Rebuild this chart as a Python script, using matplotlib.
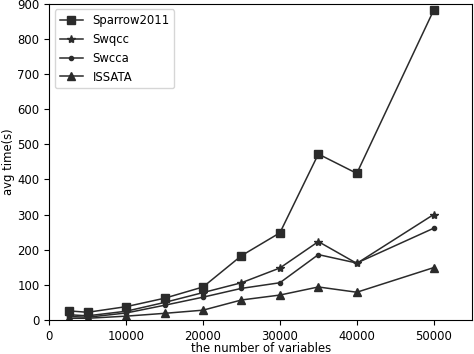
import matplotlib
matplotlib.use("Agg")
import matplotlib.pyplot as plt

plt.rcParams['font.size'] = 8.4

# number of variables
n_vars = [2500, 5000, 10000, 15000, 20000, 25000, 30000, 35000, 40000, 50000]

sparrow = [26, 22, 38, 62, 94, 183, 248, 472, 417, 881]
swqcc = [15, 12, 25, 50, 78, 106, 148, 223, 161, 300]
swcca = [10, 8, 20, 42, 65, 90, 106, 186, 162, 261]
issata = [5, 5, 11, 19, 28, 57, 71, 94, 79, 149]

fig = plt.figure(figsize=(4.74, 3.54), dpi=100)
ax = fig.add_axes([0.104, 0.096, 0.892, 0.894])

c = '#2b2b2b'
ax.plot(n_vars, sparrow, marker='s', color=c, lw=1.1, ms=6, label='Sparrow2011')
ax.plot(n_vars, swqcc, marker='*', color=c, lw=1.1, ms=6, label='Swqcc')
ax.plot(n_vars, swcca, marker='.', color=c, lw=1.1, ms=6, label='Swcca')
ax.plot(n_vars, issata, marker='^', color=c, lw=1.1, ms=6, label='ISSATA')

ax.set_xlim(0, 55000)
ax.set_ylim(0, 900)
ax.set_xticks([0, 10000, 20000, 30000, 40000, 50000])
ax.set_xlabel('the number of variables')
ax.set_ylabel('avg time(s)')
ax.xaxis.set_label_coords(0.5, -0.071)
ax.yaxis.set_label_coords(-0.08, 0.5)
ax.legend(loc='upper left')

fig.savefig('out.png', dpi=100)
